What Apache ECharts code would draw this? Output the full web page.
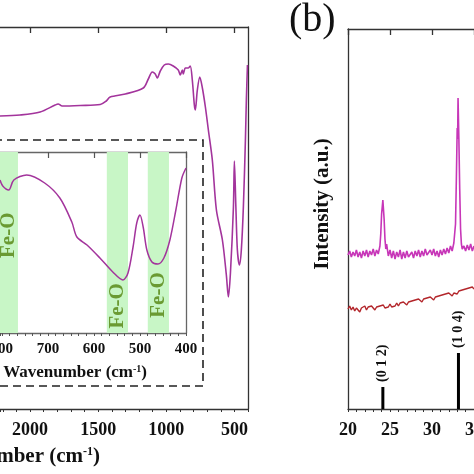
<!DOCTYPE html>
<html>
<head>
<meta charset="utf-8">
<script src="https://cdn.jsdelivr.net/npm/echarts@6/dist/echarts.min.js"></script>
<style>
  html, body { margin: 0; padding: 0; background: #fff; }
  #main { width: 474px; height: 474px; }
</style>
</head>
<body>
<div id="main"></div>
<script>
// (a) FTIR, main spectrum
var ftirWn  = [2221, 2074, 1926, 1816, 1794, 1765, 1632, 1485, 1441, 1412, 1301, 1169, 1132, 1103, 1081, 1066, 1044, 1015, 985, 949, 912, 897, 882, 875, 860, 838, 824, 809, 794, 787, 772, 754, 735, 713, 691, 662, 632, 588, 559, 544, 529, 507, 500, 489, 478, 463, 449, 434, 419, 412, 404];
var ftirVal = [293, 294, 297, 304, 305, 303, 303.5, 304.5, 308, 312, 315, 321, 330, 337, 335, 331, 338, 344, 345, 343, 339, 334, 339, 335, 341, 341, 343, 329, 304, 299, 319, 332, 321, 302, 279, 249, 199, 169, 134, 112, 136, 202, 248, 202, 159, 144, 159, 202, 269, 309, 344];

// (a) inset, 800-400 cm-1
var insetWn  = [804, 798, 785, 774, 746, 707, 674, 648, 637, 615, 587, 559, 537, 526, 515, 507, 500, 493, 485, 474, 461, 448, 435, 422, 409, 400];
var insetVal = [153, 147, 143, 153, 158, 150, 135, 111, 96, 88, 75, 61, 53, 60, 86, 110, 118, 106, 83, 71, 69, 75, 93, 123, 155, 165];
var bands = [[765, 804], [526, 572], [437, 483]];
var bandLabelPos = ['46%', '85%', '79%'];

// (b) XRD
var pinkAngle = [20.0, 20.2, 20.4, 20.6, 20.8, 21.0, 21.2, 21.4, 21.6, 21.8, 22.0, 22.2, 22.4, 22.6, 22.8, 23.0, 23.2, 23.4, 23.6, 23.8, 23.9, 24.0, 24.15, 24.3, 24.4, 24.5, 24.6, 24.8, 25.0, 25.2, 25.4, 25.6, 25.8, 26.0, 26.2, 26.4, 26.6, 26.8, 27.0, 27.2, 27.4, 27.6, 27.8, 28.0, 28.2, 28.4, 28.6, 28.8, 29.0, 29.2, 29.4, 29.6, 29.8, 30.0, 30.2, 30.4, 30.6, 30.8, 31.0, 31.2, 31.4, 31.6, 31.8, 32.0, 32.2, 32.4, 32.6, 32.8, 32.9, 33.0, 33.05, 33.1, 33.2, 33.3, 33.4, 33.5, 33.6, 33.8, 34.0, 34.2, 34.4, 34.6, 34.8, 35.0];
var pinkVal   = [154, 158, 152, 157, 153, 159, 152, 157, 151, 158, 153, 159, 152, 158, 154, 160, 153, 159, 155, 163, 175, 195, 209, 190, 170, 160, 165, 153, 159, 151, 158, 150, 157, 152, 159, 150, 157, 151, 158, 152, 150, 157, 151, 158, 153, 159, 152, 158, 153, 160, 154, 152, 159, 154, 160, 153, 158, 152, 159, 154, 160, 155, 161, 156, 163, 158, 166, 185, 230, 281, 270, 311, 270, 220, 180, 165, 160, 163, 158, 164, 159, 165, 158, 163];
var redAngle = [20.0, 20.2, 20.4, 20.6, 20.8, 21.0, 21.2, 21.4, 21.6, 21.8, 22.0, 22.2, 22.4, 22.6, 22.8, 23.0, 23.2, 23.4, 23.6, 23.8, 24.0, 24.2, 24.4, 24.6, 24.8, 25.0, 25.2, 25.4, 25.6, 25.8, 26.0, 26.2, 26.4, 26.6, 26.8, 27.0, 27.2, 27.4, 27.6, 27.8, 28.0, 28.2, 28.4, 28.6, 28.8, 29.0, 29.2, 29.4, 29.6, 29.8, 30.0, 30.2, 30.4, 30.6, 30.8, 31.0, 31.2, 31.4, 31.6, 31.8, 32.0, 32.2, 32.4, 32.6, 32.8, 33.0, 33.2, 33.4, 33.6, 33.8, 34.0, 34.2, 34.4, 34.6, 34.8, 35.0];
var redVal   = [100, 103, 99, 102, 98, 101, 100, 97, 101, 99, 103, 99, 102, 100, 103, 101, 99, 102, 100, 103, 101, 104, 101, 103, 102, 105, 102, 104, 103, 106, 103, 106, 104, 107, 105, 104, 107, 105, 108, 106, 109, 107, 110, 108, 107, 110, 108, 111, 109, 112, 110, 109, 112, 110, 113, 111, 114, 112, 115, 113, 116, 114, 113, 116, 118, 115, 118, 116, 119, 117, 120, 118, 121, 119, 122, 120];
var refAngle = [24.15, 33.15];
var refVal   = [22, 56];
var refHkl   = ['(0 1 2)', '(1 0 4)'];

var serif = "'Liberation Serif', 'Times New Roman', serif";

function zip(a, b) { return a.map(function (v, i) { return [v, b[i]]; }); }
function isStep(v, s) { var q = v / s; return Math.abs(q - Math.round(q)) < 1e-6; }

var myChart = echarts.init(document.getElementById('main'));

var labelStyle = { color: '#111', fontFamily: serif, fontWeight: 'bold', fontSize: 18, margin: 12, interval: 0 };

myChart.setOption({
  backgroundColor: '#fff',
  animation: false,
  grid: [
    { left: 0, right: 226, top: 27, bottom: 65, outerBoundsMode: 'none', containLabel: false },
    { left: 0, right: 288, top: 152, bottom: 141, outerBoundsMode: 'none', containLabel: false },
    { left: 348, right: 0, top: 29, bottom: 65, outerBoundsMode: 'none', containLabel: false }
  ],
  xAxis: [
    // panel a: minor ticks + labels
    { gridIndex: 0, type: 'value', min: 400, max: 2221, inverse: true, interval: 100,
      axisLine: { lineStyle: { color: '#333', width: 1.3 } },
      axisTick: { length: 3, lineStyle: { color: '#333' } },
      axisLabel: Object.assign({}, labelStyle, { formatter: function (v) { return isStep(v, 500) ? Math.round(v) : ''; } }),
      splitLine: { show: false } },
    // panel a: major ticks
    { gridIndex: 0, type: 'value', min: 400, max: 2221, inverse: true,
      axisLine: { show: false },
      axisTick: { inside: true, length: 6, customValues: [500, 1000, 1500, 2000], lineStyle: { color: '#333', width: 1.3 } },
      axisLabel: { show: false }, splitLine: { show: false } },
    { gridIndex: 0, type: 'value', position: 'top', min: 400, max: 2221, inverse: true,
      axisLine: { lineStyle: { color: '#333', width: 1.3 } },
      axisTick: { show: false }, axisLabel: { show: false }, splitLine: { show: false } },
    // inset
    { gridIndex: 1, type: 'value', min: 400, max: 804, inverse: true, interval: 100 / 6,
      axisLine: { lineStyle: { color: '#666', width: 1.3 } },
      axisTick: { length: 3, lineStyle: { color: '#555' } },
      axisLabel: Object.assign({}, labelStyle, { fontSize: 15, margin: 9, formatter: function (v) { return isStep(v, 100) ? Math.round(v) : ''; } }),
      splitLine: { show: false } },
    { gridIndex: 1, type: 'value', min: 400, max: 804, inverse: true, interval: 100,
      axisLine: { show: false },
      axisTick: { inside: true, length: 6, lineStyle: { color: '#555', width: 1.2 } },
      axisLabel: { show: false }, splitLine: { show: false } },
    { gridIndex: 1, type: 'value', position: 'top', min: 400, max: 804, inverse: true,
      axisLine: { lineStyle: { color: '#666', width: 1.3 } },
      axisTick: { show: false }, axisLabel: { show: false }, splitLine: { show: false } },
    // panel b
    { gridIndex: 2, type: 'value', min: 20, max: 35, interval: 1,
      axisLine: { lineStyle: { color: '#333', width: 1.3 } },
      axisTick: { length: 3, lineStyle: { color: '#333' } },
      axisLabel: Object.assign({}, labelStyle, { formatter: function (v) { return isStep(v, 5) ? Math.round(v) : ''; } }),
      splitLine: { show: false } },
    { gridIndex: 2, type: 'value', min: 20, max: 35, interval: 5,
      axisLine: { show: false },
      axisTick: { inside: true, length: 6, lineStyle: { color: '#333', width: 1.3 } },
      axisLabel: { show: false }, splitLine: { show: false } },
    { gridIndex: 2, type: 'value', position: 'top', min: 20, max: 35,
      axisLine: { lineStyle: { color: '#333', width: 1.3 } },
      axisTick: { show: false }, axisLabel: { show: false }, splitLine: { show: false } }
  ],
  yAxis: [
    { gridIndex: 0, type: 'value', position: 'right', min: 0, max: 382,
      axisLine: { show: true, lineStyle: { color: '#333', width: 1.3 } },
      axisTick: { show: false }, axisLabel: { show: false }, splitLine: { show: false } },
    { gridIndex: 1, type: 'value', position: 'right', min: 0, max: 181,
      axisLine: { show: true, lineStyle: { color: '#666', width: 1.3 } },
      axisTick: { show: false }, axisLabel: { show: false }, splitLine: { show: false } },
    { gridIndex: 2, type: 'value', position: 'left', min: 0, max: 380,
      name: 'Intensity (a.u.)', nameLocation: 'middle', nameRotate: 90, nameGap: 15,
      nameTextStyle: { color: '#111', fontFamily: serif, fontWeight: 'bold', fontSize: 21, padding: [0, 0, 0, 30] },
      axisLine: { show: true, lineStyle: { color: '#333', width: 1.3 } },
      axisTick: { show: false }, axisLabel: { show: false }, splitLine: { show: false } }
  ],
  graphic: [
    { type: 'rect', z: 1, silent: true,
      shape: { x: -6, y: 140, width: 209, height: 246 },
      style: { fill: 'none', stroke: '#222', lineWidth: 1.6, lineDash: [8, 5] } },
    { type: 'text', right: 374, top: 446,
      style: { text: '{a|Wavenumber (cm}{s|-1}{a|)}', fill: '#111', font: 'bold 21px ' + serif,
        rich: { a: { fontFamily: serif, fontWeight: 'bold', fontSize: 21, fill: '#111' },
                s: { fontFamily: serif, fontWeight: 'bold', fontSize: 12, fill: '#111', verticalAlign: 'top', padding: [0, 0, 10, 0] } } } },
    { type: 'text', right: 327, top: 364,
      style: { text: '{a|Wavenumber (cm}{s|-1}{a|)}', fill: '#111', font: 'bold 17px ' + serif,
        rich: { a: { fontFamily: serif, fontWeight: 'bold', fontSize: 17, fill: '#111' },
                s: { fontFamily: serif, fontSize: 10, fontWeight: 'bold', fill: '#111', padding: [0, 0, 8, 0] } } } },
    { type: 'text', left: 289, top: 0,
      style: { text: '(b)', fill: '#111', font: '40px ' + serif } }
  ],
  series: [
    { type: 'line', xAxisIndex: 0, yAxisIndex: 0, data: zip(ftirWn, ftirVal),
      symbol: 'none', smooth: 0.3, lineStyle: { color: '#a3349c', width: 1.6 } },
    { type: 'line', xAxisIndex: 3, yAxisIndex: 1, data: zip(insetWn, insetVal),
      symbol: 'none', smooth: 0.3, lineStyle: { color: '#a3349c', width: 1.5 },
      markArea: {
        silent: true,
        itemStyle: { color: '#c8f6c6' },
        label: { show: true, formatter: '{b}', rotate: 90, align: 'center', verticalAlign: 'middle',
          color: '#6a9a32', fontFamily: serif, fontWeight: 'bold', fontSize: 21 },
        data: bands.map(function (b, i) {
          return [{ name: 'Fe-O', xAxis: b[0], label: { position: ['50%', bandLabelPos[i]] } }, { xAxis: b[1] }];
        })
      } },
    { type: 'line', xAxisIndex: 6, yAxisIndex: 2, data: zip(pinkAngle, pinkVal),
      symbol: 'none', lineStyle: { color: '#c736b8', width: 1.6 } },
    { type: 'line', xAxisIndex: 6, yAxisIndex: 2, data: zip(redAngle, redVal),
      symbol: 'none', lineStyle: { color: '#b3262b', width: 1.4 } },
    { type: 'bar', xAxisIndex: 6, yAxisIndex: 2, data: zip(refAngle, refVal), barWidth: 3,
      itemStyle: { color: '#000' },
      label: { show: true, position: 'top', rotate: 90, align: 'left', verticalAlign: 'middle', distance: 5,
        formatter: function (p) { return refHkl[p.dataIndex]; },
        color: '#111', fontFamily: serif, fontWeight: 'bold', fontSize: 14 } }
  ]
});
</script>
</body>
</html>
